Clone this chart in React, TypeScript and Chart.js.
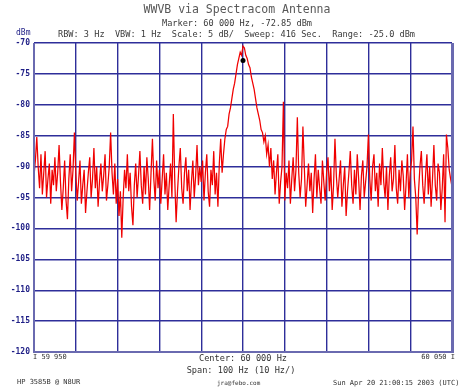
import { useEffect, useRef } from "react";
import { Chart, registerables } from "chart.js";

Chart.register(...registerables);

const START_HZ = 59950;
const STOP_HZ = 60050;
const GRID_HZ = 10;
const Y_MIN = -120;
const Y_MAX = -70;
const Y_STEP = 5;

const MARKER_HZ = 60000;
const MARKER_DBM = -72.85;

// 301 trace points, 59 950 Hz .. 60 050 Hz
const TRACE_DBM = [
  -91.5, -89, -85.2, -90, -93.5, -88, -94.5, -91, -87.5, -95,
  -92, -89.5, -96, -90.5, -93, -88.5, -94, -91, -86.5, -92.5,
  -97, -93.5, -89, -95.5, -98.5, -92, -88, -94, -90.5, -84.5,
  -91, -95.5, -92.5, -89, -96, -93, -90.5, -97.5, -94, -91,
  -88.5, -95, -92, -87, -93.5, -90, -96.5, -92.5, -89.5, -94,
  -91.5, -88, -95.5, -93, -90, -84.5, -91, -94.5, -89.5, -96,
  -92, -98, -94, -101.5, -95, -90.5, -93.5, -88, -94, -91,
  -96.5, -99.5, -93, -89.5, -95, -91.5, -87.5, -93, -96, -90,
  -94.5, -88.5, -92, -97, -91, -85.5, -92, -95.5, -89, -93.5,
  -90.5, -96, -92, -88, -94.5, -91, -97, -93, -89.5, -95,
  -81.5, -92, -99, -94, -90, -87, -93.5, -96, -91, -88.5,
  -94, -90.5, -97, -92.5, -89, -95, -91.5, -86.5, -93, -90,
  -92.5, -89, -95.5, -91, -88, -94, -96.5, -90.5, -93, -87.5,
  -94.5, -91, -96.5, -89.5, -85.5, -91, -88, -85.5, -84, -83.5,
  -81.5, -80.5, -79, -77.5, -76.5, -75, -73.5, -72.5, -71.5, -72,
  -70.5, -70.8, -72, -72.5, -73.5, -74, -75.5, -76.5, -77.5, -79,
  -80.5, -81.5, -82.5, -84, -84.5, -86, -85, -88, -86.5, -90,
  -87, -92, -89, -94.5, -91, -88, -96, -92.5, -90, -79.5,
  -95.5, -91, -93.5, -89, -96, -92, -88.5, -94, -90.5, -82,
  -91, -95, -92, -83.5, -90, -96.5, -93, -89.5, -94, -91,
  -97.5, -92, -88, -95, -90.5, -93.5, -96, -89, -92.5, -95.5,
  -91, -88.5, -94, -90, -97, -93, -85.5, -91.5, -95, -92,
  -89, -96.5, -93, -90, -98, -94, -91, -87.5, -93, -96,
  -90.5, -94.5, -88, -92, -97, -91.5, -89, -95, -92.5, -90,
  -84.8, -92, -95.5, -90, -88, -94, -91, -96.5, -89.5, -93,
  -87, -92.5, -95, -90, -97, -91.5, -88.5, -94, -92, -86.5,
  -93.5, -96, -90.5, -94, -89, -91.5, -97, -93, -88, -95,
  -91, -89, -83.5, -92, -95, -101, -94, -90, -87.5, -93,
  -96, -91.5, -88, -94.5, -90, -96.5, -92, -86.5, -93, -95.5,
  -89.5, -91, -97, -93.5, -88, -99, -84.8, -87, -90.5, -92,
  -93.3,
];

const TITLE = "WWVB via Spectracom Antenna";
const MARKER_TEXT = "Marker: 60 000 Hz, -72.85 dBm";
const SETTINGS_TEXT = "RBW: 3 Hz  VBW: 1 Hz  Scale: 5 dB/  Sweep: 416 Sec.  Range: -25.0 dBm";
const UNIT_TEXT = "dBm";
const START_LABEL = "I 59 950";
const STOP_LABEL = "60 050 I";
const CENTER_TEXT = "Center: 60 000 Hz";
const SPAN_TEXT = "Span: 100 Hz (10 Hz/)";
const INSTRUMENT_TEXT = "HP 3585B @ N8UR";
const EMAIL_TEXT = "jra@febo.com";
const DATE_TEXT = "Sun Apr 20 21:00:15 2003 (UTC)";

const MONO = '"DejaVu Sans Mono", monospace';
const NAVY = "#1e1e86";
const GRID = "#2e2e9a";
const FRAME = "#6a6ab0";

const textPlugin = {
  id: "annotTexts",
  afterDraw(chart: any) {
    const ctx = chart.ctx as CanvasRenderingContext2D;
    const a = chart.chartArea;
    ctx.save();
    // frame
    ctx.strokeStyle = FRAME;
    ctx.lineWidth = 2;
    ctx.beginPath();
    ctx.moveTo(a.left, a.top);
    ctx.lineTo(a.left, a.bottom);
    ctx.lineTo(a.right, a.bottom);
    ctx.stroke();
    ctx.lineWidth = 3;
    ctx.beginPath();
    ctx.moveTo(a.right + 0.5, a.top);
    ctx.lineTo(a.right + 0.5, a.bottom + 1);
    ctx.stroke();

    ctx.textBaseline = "middle";
    const cx = (a.left + a.right) / 2 - 6;
    ctx.fillStyle = "#585858";
    ctx.textAlign = "center";
    ctx.font = `11.5px ${MONO}`;
    ctx.fillText(TITLE, cx, 10.5);
    ctx.fillStyle = "#3a3a3a";
    ctx.font = `8.6px ${MONO}`;
    ctx.fillText(MARKER_TEXT, cx, 24);
    ctx.textAlign = "left";
    ctx.fillText(SETTINGS_TEXT, 58, 35);
    ctx.fillStyle = NAVY;
    ctx.font = `8px ${MONO}`;
    ctx.fillText(UNIT_TEXT, 16, 33);

    ctx.fillStyle = "#333333";
    ctx.font = `7px ${MONO}`;
    ctx.textAlign = "left";
    ctx.fillText(START_LABEL, a.left - 1, a.bottom + 5);
    ctx.textAlign = "right";
    ctx.fillText(STOP_LABEL, a.right + 3, a.bottom + 5);

    ctx.font = `8.6px ${MONO}`;
    ctx.textAlign = "center";
    ctx.fillText(CENTER_TEXT, 243, a.bottom + 7);
    ctx.fillText(SPAN_TEXT, 241, a.bottom + 19);

    ctx.font = `7px ${MONO}`;
    ctx.textAlign = "left";
    ctx.fillText(INSTRUMENT_TEXT, 17, 382);
    ctx.fillText(DATE_TEXT, 333, 383);
    ctx.font = `6px ${MONO}`;
    ctx.fillText(EMAIL_TEXT, 217, 383);
    ctx.restore();
  },
};

export default function App() {
  const ref = useRef<HTMLCanvasElement | null>(null);

  useEffect(() => {
    document.body.style.margin = "0";
    const canvas = ref.current;
    if (!canvas) return;
    const n = TRACE_DBM.length;
    const trace = TRACE_DBM.map((v, i) => ({
      x: START_HZ + (i * (STOP_HZ - START_HZ)) / (n - 1),
      y: v,
    }));
    const chart = new Chart(canvas, {
      type: "line",
      data: {
        datasets: [
          {
            data: trace,
            borderColor: "#f00000",
            borderWidth: 1.25,
            pointRadius: 0,
            tension: 0,
            order: 2,
          },
          {
            data: [{ x: MARKER_HZ, y: MARKER_DBM }],
            showLine: false,
            pointRadius: 2.5,
            pointBackgroundColor: "#000000",
            pointBorderColor: "#000000",
            pointBorderWidth: 0,
            order: 1,
          },
        ],
      },
      options: {
        responsive: false,
        animation: false,
        devicePixelRatio: 1,
        layout: { padding: { top: 43, right: 22, left: 0, bottom: 0 } },
        plugins: { legend: { display: false }, tooltip: { enabled: false } },
        scales: {
          x: {
            type: "linear",
            min: START_HZ,
            max: STOP_HZ,
            ticks: { stepSize: GRID_HZ, display: false },
            grid: { color: GRID, lineWidth: 1.4, drawTicks: false },
            border: { display: false },
            afterFit(s: any) {
              s.height = 35;
            },
          },
          y: {
            min: Y_MIN,
            max: Y_MAX,
            ticks: {
              stepSize: Y_STEP,
              color: NAVY,
              font: { family: MONO, size: 8, weight: "bold" },
              padding: 4,
              autoSkip: false,
            },
            grid: { color: GRID, lineWidth: 1.4, drawTicks: false },
            border: { display: false },
            afterFit(s: any) {
              s.width = 34;
            },
          },
        },
      },
      plugins: [textPlugin],
    } as any);
    return () => chart.destroy();
  }, []);

  return <canvas ref={ref} width={474} height={387} style={{ display: "block", width: 474, height: 387 }} />;
}
